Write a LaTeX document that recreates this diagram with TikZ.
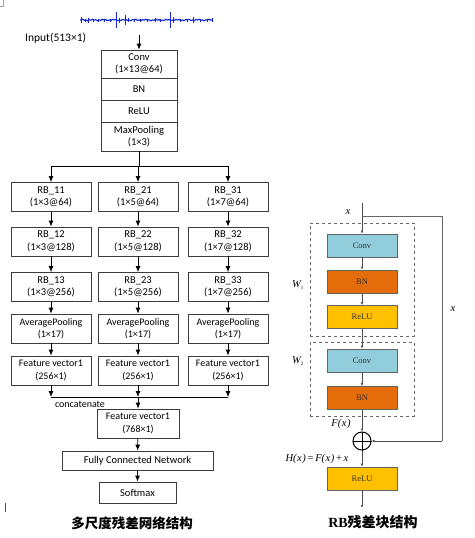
\documentclass[tikz,border=0pt]{standalone}
\usepackage{fontspec}
\setmainfont{Carlito}
\newfontfamily\serif{Liberation Serif}
\newfontfamily\cjk{Noto Sans CJK SC}
\usetikzlibrary{arrows.meta}
\definecolor{convc}{RGB}{146,205,220}
\definecolor{bnc}{RGB}{228,108,10}
\definecolor{reluc}{RGB}{255,192,0}
\definecolor{edge}{RGB}{60,60,60}
\definecolor{wave}{RGB}{20,40,210}
\tikzset{
  blk/.style={draw=edge, line width=0.8pt, inner sep=0pt, align=center, font=\fontsize{10.5}{12.5}\selectfont, text=black},
  col/.style={blk, minimum width=80pt, minimum height=29pt},
  arr/.style={line width=0.8pt, draw=black, -{Latex[length=6pt,width=5pt]}},
  ln/.style={line width=0.8pt, draw=black},
  rbox/.style={draw=edge!80, line width=0.6pt, inner sep=0pt, minimum width=70pt, minimum height=23pt, font=\serif\fontsize{8.5}{9}\selectfont, text=black!80},
  rarr/.style={line width=0.6pt, draw=black!70, -{Latex[length=3pt,width=2.5pt]}},
  rln/.style={line width=0.6pt, draw=black!60},
  dbox/.style={draw=black!60, dashed, line width=0.6pt},
  mlab/.style={font=\serif\itshape\fontsize{10.5}{12}\selectfont, inner sep=1pt},
}
\begin{document}
\begin{tikzpicture}[x=1pt,y=-1pt]
\useasboundingbox (0,0) rectangle (474,538);
\fill[white] (0,0) rectangle (474,538);
\draw[black!35, line width=0.5pt] (3,0) -- (3,6) -- (0,6);
% waveform
\draw[wave, line width=1.1pt] plot[domain=80:213, samples=300] (\x, {20 + 0.8*sin(\x*71)*cos(\x*37)});
\foreach \sx/\sh in {81/3, 85/1.5, 88/2.5, 93/1.5, 98/1.5, 104/1.5, 110/1.5, 116/8, 119/2.5, 125/5, 128/2, 134/1.5, 140/1.5, 147/1.5, 155/2, 160/1.5, 170/8, 173/3, 180/1.5, 187/1.5, 193/3, 200/1.5, 207/1.5, 212/2}
  \draw[wave, line width=0.7pt] (\sx,20-\sh) -- (\sx,20+\sh);
\node[font=\fontsize{11.5}{13}\selectfont, anchor=west, inner sep=0pt] (inp) at (25,38) {Input(513×1)};
\coordinate (inTop) at (139,35);
% stem
\node[blk, minimum width=76pt, minimum height=28pt] (conv) at (139,64) {Conv\\(1×13@64)};
\node[blk, minimum width=76pt, minimum height=22pt] (bn) at (139,89) {BN};
\node[blk, minimum width=76pt, minimum height=22pt] (relu) at (139,111) {ReLU};
\node[blk, minimum width=76pt, minimum height=29pt] (mp) at (139,136.5) {MaxPooling\\(1×3)};
\draw[arr] (inTop) -- (conv.north);
\coordinate (br) at (139,166);
\coordinate (brL) at (51,166);
\coordinate (brR) at (228,166);
\draw[ln] (mp.south) -- (br);
\draw[ln] (brL) -- (brR);
% columns
\foreach \c/\cx/\k in {1/51/3, 2/138/5, 3/228/7} {
  \node[col] (rb\c1) at (\cx,197) {RB\_\c1\\(1×\k @64)};
  \node[col] (rb\c2) at (\cx,241.5) {RB\_\c2\\(1×\k @128)};
  \node[col] (rb\c3) at (\cx,287) {RB\_\c3\\(1×\k @256)};
  \node[col, font=\fontsize{10}{12.5}\selectfont] (ap\c) at (\cx,328.5) {AveragePooling\\(1×17)};
  \node[col, font=\fontsize{10}{12.5}\selectfont] (fv\c) at (\cx,370.5) {Feature vector1\\(256×1)};
  \coordinate (top\c) at (\cx,166);
  \coordinate (bot\c) at (\cx,397);
  \draw[arr] (top\c) -- (rb\c1.north);
  \draw[arr] (rb\c1) -- (rb\c2);
  \draw[arr] (rb\c2) -- (rb\c3);
  \draw[arr] (rb\c3) -- (ap\c);
  \draw[arr] (ap\c) -- (fv\c);
  \draw[arr] (fv\c.south) -- (bot\c);
}
\draw[ln] (bot1) -- (bot3);
\node[font=\fontsize{10}{12}\selectfont, inner sep=0pt] (cat) at (80,404) {concatenate};
\node[blk, minimum width=82pt, minimum height=29pt, font=\fontsize{10}{12.5}\selectfont] (fv) at (138,423.5) {Feature vector1\\(768×1)};
\draw[arr] (bot2) -- (fv.north);
\node[blk, minimum width=151pt, minimum height=19pt, font=\fontsize{10.5}{12}\selectfont] (fc) at (137.5,460.5) {Fully Connected Network};
\node[blk, minimum width=77pt, minimum height=21pt, font=\fontsize{10.5}{12}\selectfont] (sm) at (137.5,492.5) {Softmax};
\draw[arr] (fv) -- (fc);
\draw[arr] (fc) -- (sm);
\draw[black!70, line width=0.6pt] (5,503) -- (5,512);
\node[font=\cjk\bfseries\fontsize{13.5}{15}\selectfont, inner sep=0pt] (t1) at (132,523) {多尺度残差网络结构};
% right: residual block
\node[dbox, minimum width=104pt, minimum height=113pt, inner sep=0pt] (w1box) at (362,279.5) {};
\node[dbox, minimum width=104pt, minimum height=74pt, inner sep=0pt] (w2box) at (362,379) {};
\node[rbox, fill=convc] (c1) at (362,245.5) {Conv};
\node[rbox, fill=bnc] (b1) at (362,281.5) {BN};
\node[rbox, fill=reluc] (r1) at (362,317) {ReLU};
\node[rbox, fill=convc] (c2) at (362,360.5) {Conv};
\node[rbox, fill=bnc] (b2) at (362,398) {BN};
\node[draw=black, line width=1pt, circle, minimum size=18pt, inner sep=0pt] (add) at (362,441) {};
\draw[line width=1pt] (add.north) -- (add.south) (add.west) -- (add.east);
\node[rbox, fill=reluc] (r2) at (362,478.5) {ReLU};
\coordinate (xin) at (362,203);
\coordinate (sk1) at (362,216);
\coordinate (sk2) at (442,216);
\coordinate (sk3) at (442,441);
\coordinate (outp) at (362,508);
\draw[rarr] (xin) -- (c1.north);
\draw[rarr] (c1) -- (b1);
\draw[rarr] (b1) -- (r1);
\draw[rarr] (r1) -- (c2);
\draw[rarr] (c2) -- (b2);
\draw[rarr] (b2) -- (add);
\draw[rarr] (add) -- (r2);
\draw[rarr] (r2.south) -- (outp);
\draw[rln] (sk1) -- (sk2) -- (sk3);
\draw[rarr] (sk3) -- (add.east);
\node[mlab] (lx1) at (348,212) {x};
\node[mlab] (lx2) at (453,309) {x};
\node[mlab] (lw1) at (298,285) {W\textsubscript{\upshape\fontsize{5}{6}\selectfont 1}};
\node[mlab] (lw2) at (298,361) {W\textsubscript{\upshape\fontsize{5}{6}\selectfont 2}};
\node[mlab] (lf) at (341,424) {F(\kern0.5pt x\kern0.5pt)};
\node[mlab] (lh) at (317,459) {H(\kern0.5pt x\kern0.5pt)\upshape\,=\,\itshape F(\kern0.5pt x\kern0.5pt)\upshape\,+\,\itshape x};
\node[font=\fontsize{14}{16}\selectfont, inner sep=0pt] (t2) at (373,522) {{\serif\bfseries RB}{\cjk\bfseries 残差块结构}};
\end{tikzpicture}
\end{document}
